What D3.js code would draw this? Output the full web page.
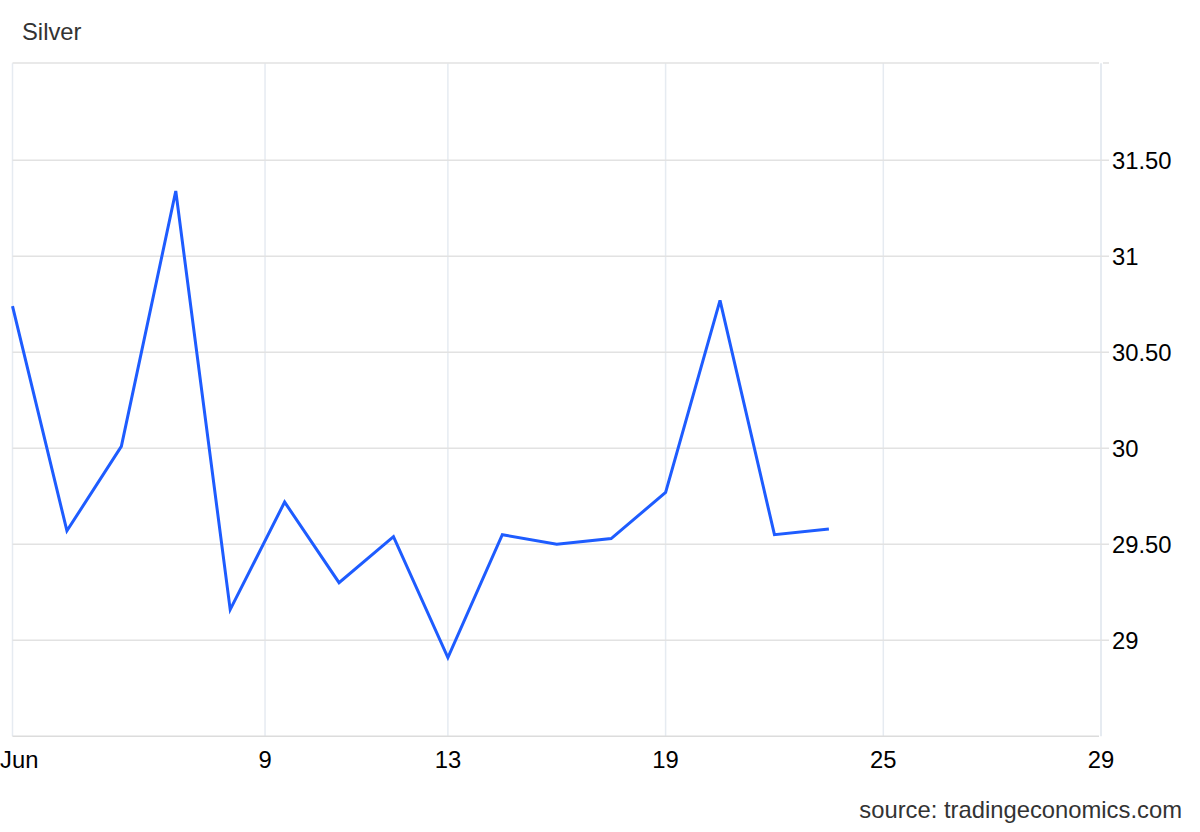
<!DOCTYPE html>
<html>
<head>
<meta charset="utf-8">
<script src="https://cdn.jsdelivr.net/npm/d3@7"></script>
<style>
  body { margin: 0; background: #fff; }
  text { font-family: "Liberation Sans", Arial, sans-serif; }
</style>
</head>
<body>
<div id="chart-area"></div>
<script>
// trading days in June (index along x), silver close
let days = ["Jun 3", "Jun 4", "Jun 5", "Jun 6", "Jun 7", "Jun 10", "Jun 11", "Jun 12",
  "Jun 13", "Jun 14", "Jun 17", "Jun 18", "Jun 19", "Jun 20", "Jun 21", "Jun 24"];
let prices = [30.74, 29.57, 30.01, 31.34, 29.16, 29.72, 29.30, 29.54,
  28.91, 29.55, 29.50, 29.53, 29.77, 30.77, 29.55, 29.58];

// x tick positions (in trading-day index) and their labels
let xTickPos = [0, 4.64, 8, 12, 16, 20];
let xTickLabels = ["Jun", "9", "13", "19", "25", "29"];
let yTicks = [29, 29.5, 30, 30.5, 31, 31.5];
let yTickLabels = ["29", "29.50", "30", "30.50", "31", "31.50"];

let svgW = 1200;
let svgH = 832;

let margin = { left: 12.5, right: 99, top: 64.3, bottom: 95.7 };
let fontSize = 23.8;

let x = d3.scaleLinear()
  .domain([0, 20])
  .range([margin.left, svgW - margin.right]);

let y = d3.scaleLinear()
  .domain([28.5, 32])
  .range([svgH - margin.bottom, margin.top]);

let svg = d3.select("#chart-area")
  .append("svg")
  .attr("width", svgW)
  .attr("height", svgH);

// vertical grid
svg.append("g")
  .selectAll("line")
  .data(xTickPos)
  .enter()
  .append("line")
  .attr("x1", d => x(d))
  .attr("x2", d => x(d))
  .attr("y1", y(32) - 1)
  .attr("y2", y(28.5))
  .attr("stroke", "#e6ebf1")
  .attr("stroke-width", d => d === 20 ? 2 : 1.5);

// horizontal grid, extending past right axis as tick
svg.append("g")
  .selectAll("line")
  .data(yTicks)
  .enter()
  .append("line")
  .attr("x1", x(0))
  .attr("x2", x(20) + 8)
  .attr("y1", d => y(d))
  .attr("y2", d => y(d))
  .attr("stroke", "#e2e2e2")
  .attr("stroke-width", 1.5);

// top border
svg.append("line")
  .attr("x1", x(0)).attr("x2", x(20) - 2)
  .attr("y1", y(32) - 1.3).attr("y2", y(32) - 1.3)
  .attr("stroke", "#e2e2e2").attr("stroke-width", 1.5);
svg.append("line")
  .attr("x1", x(20) + 2).attr("x2", x(20) + 8)
  .attr("y1", y(32) - 1.3).attr("y2", y(32) - 1.3)
  .attr("stroke", "#e2e2e2").attr("stroke-width", 1.5);

// bottom axis line
svg.append("line")
  .attr("x1", x(0)).attr("x2", x(20) - 2)
  .attr("y1", y(28.5)).attr("y2", y(28.5))
  .attr("stroke", "#dcdcdc").attr("stroke-width", 1.5);

// y labels on right
svg.append("g")
  .selectAll("text")
  .data(yTicks)
  .enter()
  .append("text")
  .attr("x", x(20) + 11)
  .attr("y", d => y(d))
  .attr("dy", "0.35em")
  .attr("font-size", fontSize)
  .attr("fill", "#000")
  .text((d, i) => yTickLabels[i]);

// x labels
svg.append("g")
  .selectAll("text")
  .data(xTickPos)
  .enter()
  .append("text")
  .attr("x", d => d === 0 ? 0 : x(d))
  .attr("y", 768)
  .attr("text-anchor", d => d === 0 ? "start" : "middle")
  .attr("font-size", fontSize)
  .attr("fill", "#000")
  .text((d, i) => xTickLabels[i]);

// line
let line = d3.line()
  .x((d, i) => x(i))
  .y(d => y(d));

svg.append("path")
  .datum(prices)
  .attr("d", line)
  .attr("fill", "none")
  .attr("stroke", "#1e5cff")
  .attr("stroke-width", 3)
  .attr("stroke-linejoin", "miter");

// title and source
svg.append("text")
  .attr("x", 22)
  .attr("y", 40)
  .attr("font-size", fontSize)
  .attr("fill", "#333")
  .text("Silver");

svg.append("text")
  .attr("x", 1182)
  .attr("y", 818)
  .attr("text-anchor", "end")
  .attr("font-size", fontSize)
  .attr("fill", "#333")
  .text("source: tradingeconomics.com");
</script>
</body>
</html>
